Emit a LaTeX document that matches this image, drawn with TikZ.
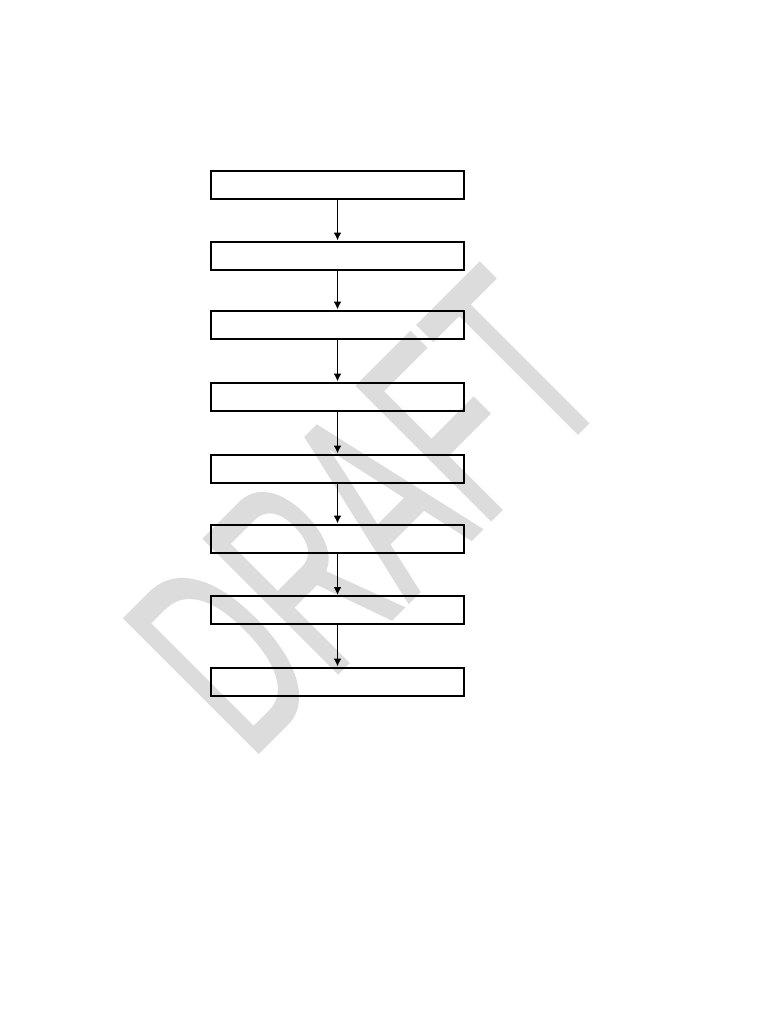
\documentclass[tikz,border=0pt]{standalone}
\usepackage{fontspec}
\setmainfont{Liberation Sans}
\newfontfamily\draftfont[FakeBold=1.2]{Liberation Sans}
\usetikzlibrary{arrows.meta}
\definecolor{draftgray}{RGB}{220,220,220}

\begin{document}
\begin{tikzpicture}[x=0.75pt, y=-0.75pt, >={Latex[length=6pt,width=6pt]},
        stepbox/.style={draw, line width=1.5pt, minimum width=189.75pt, minimum height=21pt, inner sep=0pt}]
    \useasboundingbox (0,0) rectangle (768,1024);

    % Watermark
    \node[text=draftgray, inner sep=0pt, rotate=45, xscale=0.567, font=\draftfont\fontsize{206}{206}\selectfont] (Draft) at (366,511) {DRAFT};

    % Steps
    \foreach \i/\y in {1/184.5, 2/255.5, 3/324.5, 4/396.5, 5/468.5, 6/538.5, 7/610, 8/681.5}
    {
        \node[stepbox] (Step-\i) at (337.5,\y) {};
    }

    % Draw connections between the steps
    \foreach \i [count=\j from 2] in {1,...,7}
    {
        \draw[->, line width=1.4pt] (Step-\i) -- (Step-\j);
    }

\end{tikzpicture}
\end{document}
